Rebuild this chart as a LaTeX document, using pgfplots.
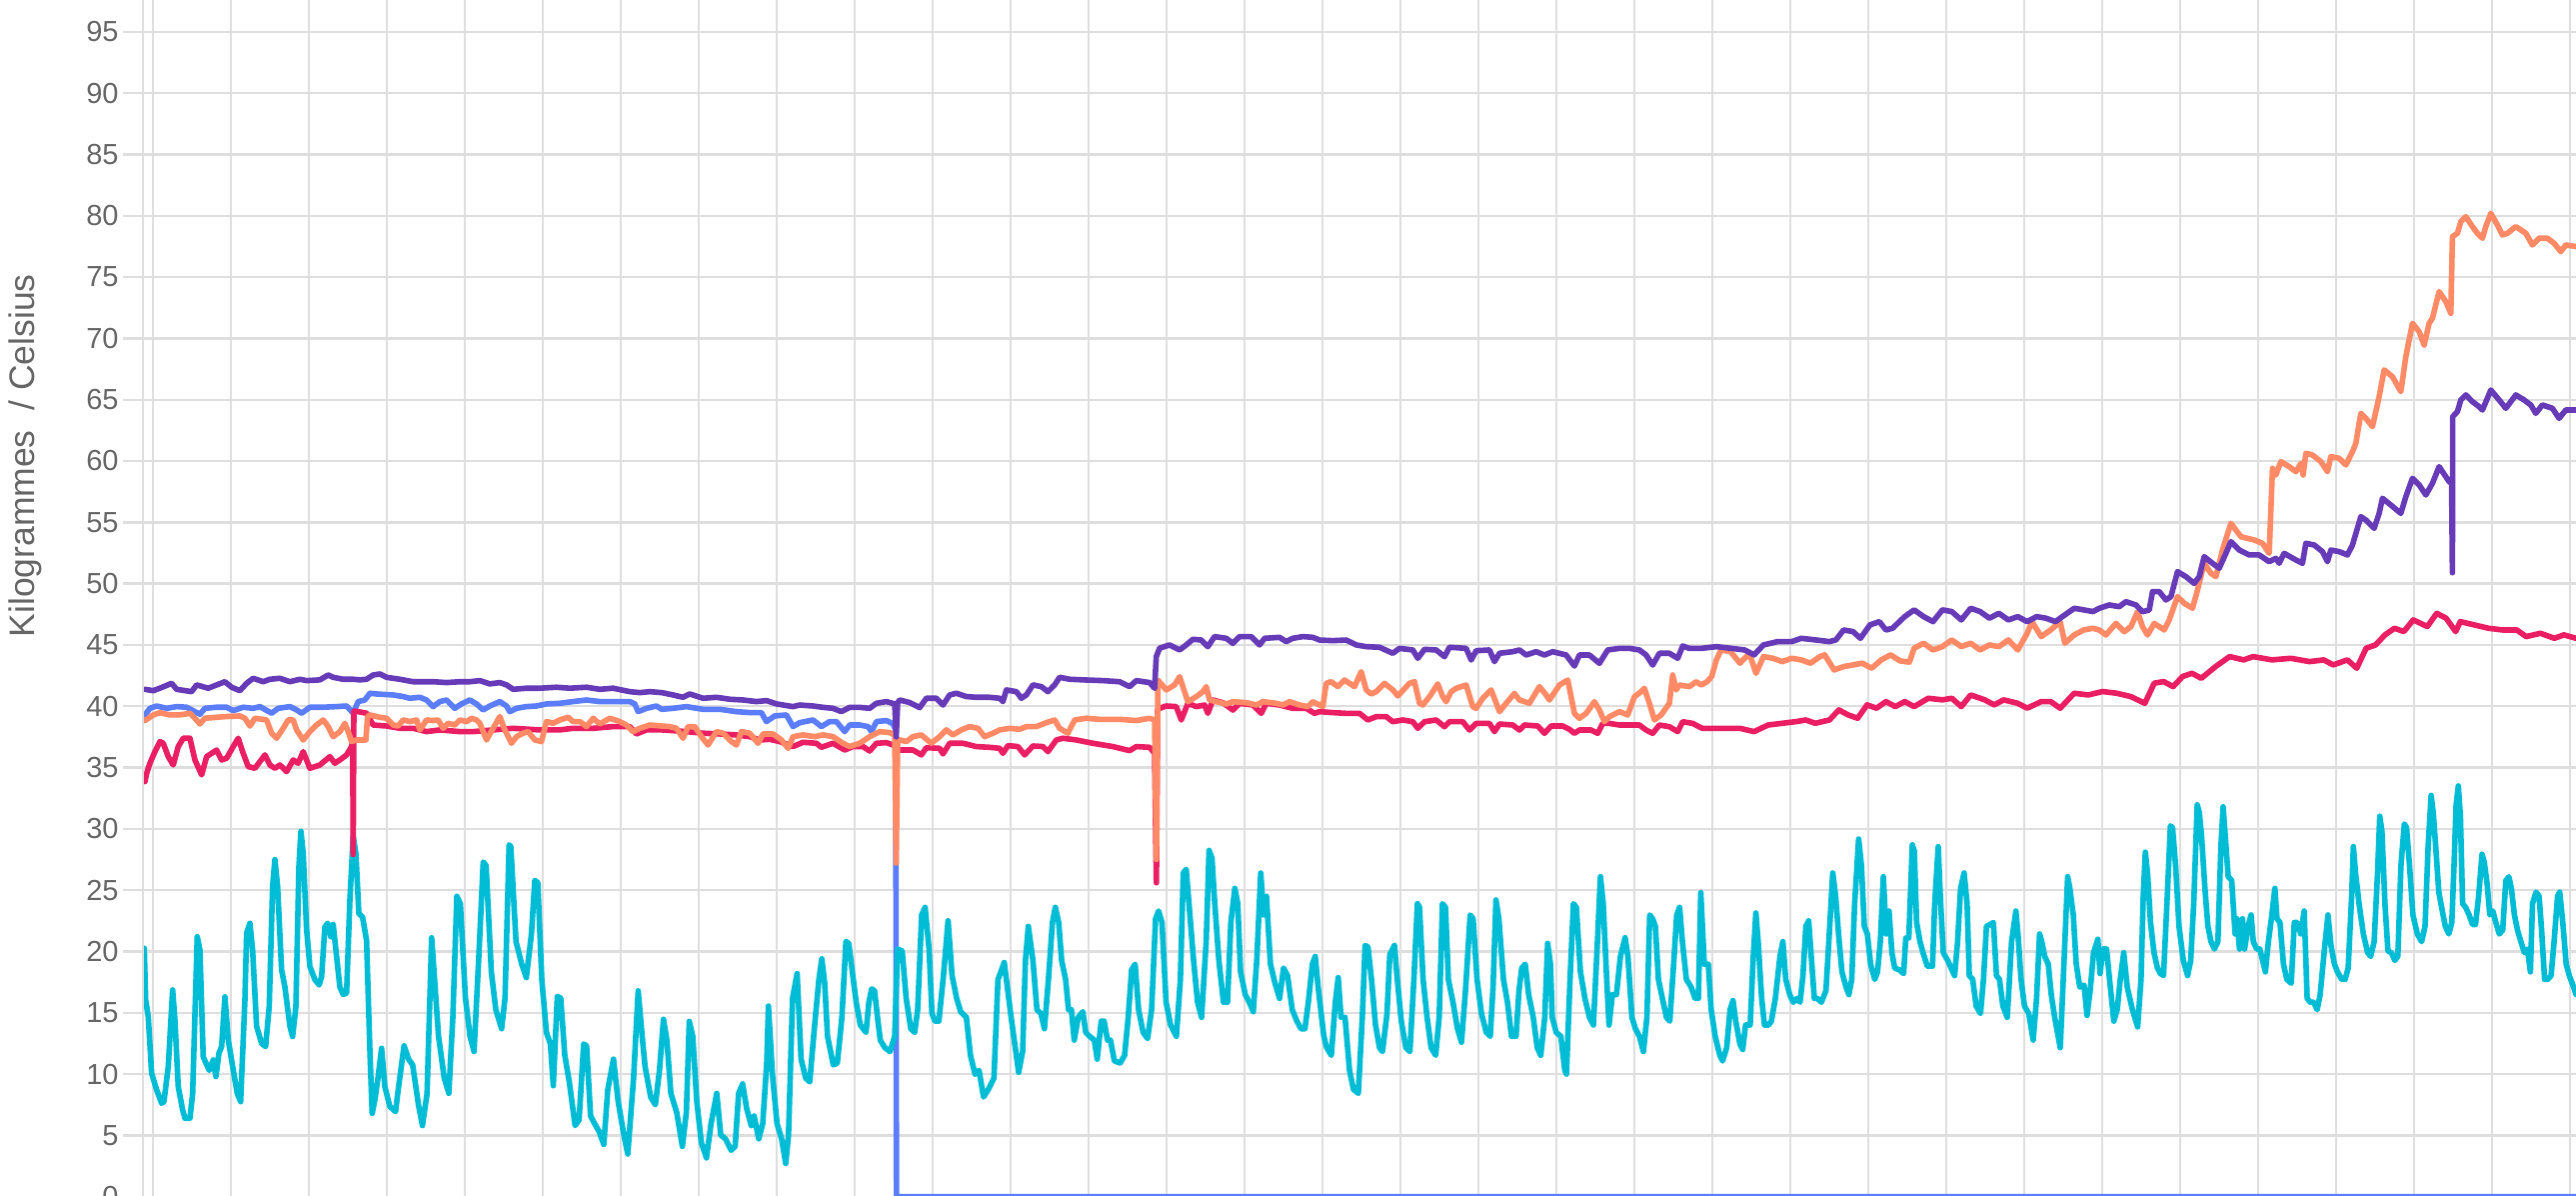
\documentclass[border=0pt]{standalone}
\usepackage{fontspec}
\setmainfont{Liberation Sans}
\usepackage{pgfplots}
\usepackage{pgfplotstable}
\pgfplotsset{compat=1.18}
\definecolor{cpurple}{HTML}{673AB7}
\definecolor{cblue}{HTML}{5B7DFA}
\definecolor{corange}{HTML}{FF8A65}
\definecolor{cred}{HTML}{E91E63}
\definecolor{ccyan}{HTML}{00BCD4}
\definecolor{gridc}{HTML}{DEDEDE}
\definecolor{txt}{HTML}{666666}
\begin{document}
\pgfplotstableread{
x y
144.3 20.26
145.7 16.05
148.3 14.69
151.7 10.06
156.7 8.71
161.7 7.62
164 7.75
168.3 10.6
172.7 16.86
175 14.4
178.3 8.98
182.7 7.07
185 6.4
190 6.4
192.7 8.4
197.3 21.2
200 20.1
203.3 11.4
209.3 10.3
213.3 11.15
216 9.8
219 11.7
221.7 12.24
225 16.3
228.3 12.8
233.3 10.34
237.3 8.43
240.7 7.75
245 16.05
246.7 21.5
250 22.3
252.7 20.1
256.7 13.9
261.7 12.5
265.7 12.24
269.3 15.5
272.7 25.3
275 27.5
277.7 25.3
281.7 18.5
285 17.1
290 13.9
292.7 13.06
296 15.5
299 26.9
301 29.8
303.3 28.0
306.7 21.8
310 18.77
315 17.7
319.3 17.27
321.7 17.95
325 22.0
327.7 22.3
331 21.2
333.3 22.2
336.7 19.6
340 17.1
343.3 16.5
346.7 16.6
350 24.2
353.3 29.4
356 28.0
359 23.1
362.7 22.8
366.7 20.9
370 11.97
372.3 6.8
375 7.9
378.3 9.8
381.7 12.1
385 8.98
390 7.35
395.7 6.94
398.3 8.7
404.2 12.3
408.8 11.2
412.8 10.75
418.6 7.5
422.6 5.8
427.2 8.4
431.8 21.12
438.7 13.08
444.4 9.67
449 8.43
453 14.63
457 24.5
460.5 23.9
465.6 16.2
470.2 13.08
474.2 11.84
478.8 19.27
483.4 27.3
486.3 27.0
491.5 18.34
496 15.25
501.8 13.7
505.2 16.2
509.3 28.7
511 28.55
516.2 20.8
521.9 18.96
526.5 17.87
531.6 21.4
535 25.8
538 25.6
542 17.7
546.6 13.4
550.6 12.46
553.5 9.05
557.5 16.33
560.9 16.2
565 11.53
569.5 9.36
575.3 5.8
579.3 6.27
583.9 12.46
586.8 12.3
590.8 6.58
594.8 5.96
599.4 5.3
604 4.26
608 8.74
613.7 11.22
618.3 7.81
623.5 5.3
628 3.48
633.8 9.67
638.4 16.79
642.4 13.08
645.3 10.6
651 8.1
655.6 7.5
659.7 10.3
663.7 14.47
667.1 12.77
671.1 8.43
676.9 6.89
682.6 4.1
686.6 6.89
689.5 14.3
693 13.08
697 7.81
701.6 4.4
706.7 3.17
711.3 5.96
717 8.43
721 5.03
725.7 4.72
731.4 3.79
735.4 4.1
738.9 8.43
742.9 9.2
746.9 7.2
751.5 5.8
754.4 6.58
759 4.72
763 5.96
767 10.9
768.7 15.55
772.7 9.98
777.3 5.96
781.9 4.72
786 2.71
788.8 5.03
792.8 16.17
797.4 18.2
801.4 11.22
806 9.67
810 9.36
814.6 13.7
819.2 17.72
822.1 19.4
825 17.4
827.8 13.08
833.6 10.75
837.6 10.9
842.2 14.63
846.2 20.8
849.1 20.66
853.1 18.03
856.5 15.86
860.6 14
866.3 13.4
869.2 15.86
872 16.95
874.9 16.79
877.8 14.63
880.6 12.77
885.2 12.15
890.4 11.84
895 13.08
897.9 20.2
902.5 20.04
906.5 16.17
911.1 13.7
915 13.4
918 15.25
922 22.98
925.4 23.6
929.4 20.2
932.3 14.94
935.2 14.32
939.2 14.32
943.8 18.03
948.4 22.5
952.4 18.03
957 16.17
961 15.09
966.7 14.63
970.8 11.53
975.4 9.98
979.4 10.3
983.9 8.13
988.6 8.74
994.3 9.67
998.3 17.7
1004.6 19.1
1011.5 14.63
1019 10.14
1023 11.84
1025.8 19.27
1028.7 22.05
1033.3 19.27
1037.3 15.25
1041.3 14.94
1044.8 13.7
1048.8 17.72
1052.8 22.36
1055.7 23.6
1059.1 22.36
1062 19.27
1066 17.72
1068.9 15.25
1071.8 15.25
1074.6 12.77
1078.6 14.63
1083.2 15.09
1086.1 13.4
1090 13.08
1094.7 12.77
1097.6 11.22
1101.6 14.32
1104.5 14.32
1107.9 12.77
1110.8 12.77
1114.8 11.07
1120.5 10.9
1125 11.53
1128.6 14.63
1132 18.5
1135.5 18.96
1139 15.25
1143.5 13.4
1148 12.9
1152 15.25
1156 22.67
1159 23.3
1162.4 22.36
1166.5 15.86
1171 14
1176.8 13.08
1180.8 17.72
1183.7 26.4
1186.6 26.7
1189.4 23.9
1194 19.27
1198 15.86
1202 14.63
1206.6 20.8
1209.5 28.24
1212.4 27.6
1215.2 23.9
1219.3 19.27
1223.9 15.86
1227.9 15.86
1231.3 22.36
1235.3 25.15
1238.2 23.9
1241 18.34
1245.7 16.48
1249.7 15.86
1253.7 15.09
1257.2 19.27
1261.2 26.4
1264 22.98
1266.9 24.5
1270.9 18.96
1275.5 17.4
1280 16.17
1284 18.65
1288 18.03
1292.7 15.25
1297.3 14.32
1301.4 13.7
1305.4 13.7
1308.8 15.86
1312.8 18.96
1315.7 19.6
1318.6 17.1
1324.3 13.08
1327.2 12.15
1331.8 11.53
1335.8 15.86
1338.7 17.87
1341.5 14.63
1345.5 14.63
1350 10.3
1354 8.74
1358.8 8.43
1362.8 14.63
1365.6 20.5
1368.5 20.35
1372 17.72
1376 14
1380 12.15
1383 11.84
1387.5 14.94
1390.3 19.73
1394.9 20.5
1397.8 17.72
1401.8 14.32
1406.4 12.15
1410.4 11.84
1414.4 17.72
1417.9 23.9
1420 23.6
1423.6 17.72
1427.6 14.63
1431.6 12.15
1436.2 11.53
1439.7 14.63
1443 23.9
1446 23.6
1448.9 17.72
1453.5 15.86
1458 13.7
1462 12.6
1466 16.79
1470.7 22.98
1473.6 22.67
1477.6 17.72
1482 14.94
1486.8 13.4
1490.8 13.08
1493.6 17.1
1496.5 24.2
1499.4 22.67
1504 17.72
1508 15.86
1512 13.08
1516.6 13.08
1519.5 16.79
1522.3 18.65
1525.8 18.96
1529.2 16.48
1533.8 14.63
1537.8 12.15
1541.3 11.53
1545.3 14.63
1548.2 20.66
1551 18.96
1552.8 14.63
1556.8 13.4
1561.4 13.08
1565.4 10.3
1567 10
1570.6 17.72
1574 23.9
1576.9 23.6
1581 18.34
1585.5 16.17
1590 14.63
1594 14
1598 20.8
1601 26.1
1603.8 23.9
1607.3 17.72
1609.6 14
1613 16.48
1617 16.48
1621 19.6
1625.7 21.12
1628.5 19.6
1632.5 14.63
1636 13.7
1640 13.08
1644 11.84
1647.5 14.63
1650.3 22.98
1653.2 22.67
1656 22.05
1659 17.72
1663 16.17
1667 14.63
1670.4 14.32
1674.5 19.27
1677.3 22.98
1680.2 23.6
1683 20.8
1687 17.72
1691.7 17.1
1695.7 16.17
1699 16.17
1701.4 24.8
1704.9 18.96
1708.9 18.96
1711.8 15.25
1715.8 13.08
1720.4 11.53
1723.2 11.07
1727.3 12.15
1730.7 15.25
1733.6 16
1736.4 14.32
1740.5 12.46
1743.3 12
1746.2 14
1750.8 14
1753.7 19.27
1756.5 23.14
1758.8 20.8
1762.3 16.17
1765.1 14
1769.2 14
1772 14.32
1776 16.17
1780.6 19.6
1783.5 20.8
1786.4 17.72
1790.4 16.48
1793.8 15.86
1797.9 16.17
1800.7 15.86
1803.6 18.03
1806.5 22.05
1809.3 22.5
1812.2 19.27
1815 16.17
1818 16.17
1822 15.86
1826.6 16.79
1830.6 22.36
1833.4 26.4
1836.3 24.5
1839.2 21.43
1842.6 18.34
1846.7 17.1
1849.5 16.48
1852.4 17.72
1855.3 23.9
1859.3 29.17
1862.1 27
1865 22.05
1868 21.43
1871.3 18.96
1875.4 17.72
1878.2 18.34
1881 20.8
1884 26.1
1886.8 21.43
1889.7 23.3
1892.6 19.9
1895.4 18.65
1900 18.5
1904.3 18.2
1906.5 21.1
1909.5 21.1
1913 28.7
1915 28.2
1917.3 22.36
1920.7 20.8
1923.7 19.9
1928 18.8
1933.2 18.8
1935.4 23.9
1938.9 28.55
1941 24.5
1944 19.9
1948.4 19.27
1951.8 18.65
1955.3 18.03
1958.3 20.8
1961.3 25.15
1964.8 26.4
1967.8 23.9
1970 18.03
1973.4 17.72
1976.9 15.55
1981.2 14.94
1984.2 17.72
1987.2 22.05
1990.7 22.2
1994.1 22.36
1997.2 18.03
2000.2 17.72
2003.6 15.55
2008 14.63
2012.3 20.8
2016.6 23.3
2018.7 21.43
2021.8 17.72
2025.2 15.55
2029.5 14.94
2033.9 12.77
2037.3 16.17
2040.3 21.43
2042.5 20.8
2045.5 19.6
2049 18.96
2052 16.48
2055.4 14.63
2061 12.15
2064 17.72
2068.4 26.1
2070.6 25.15
2074 23
2077 18.96
2080.5 17.1
2084.8 17.25
2087.8 14.78
2090.9 16.79
2094.3 19.9
2098.6 21
2100.8 18.2
2103.8 20.2
2107.3 20.2
2110.7 17.41
2114.6 14.32
2118 15.25
2121 17.72
2124.5 19.9
2128 17.1
2133.2 15.25
2138.4 13.85
2141.8 17.72
2144 24.5
2146.1 28.1
2148.3 26.4
2151.3 22.36
2154.8 19.9
2158.2 18.65
2161.2 18.2
2164.3 18.03
2167.7 23.9
2171.2 30.25
2173.3 30.1
2176.4 27
2179.8 22.05
2184.1 19.27
2188.4 18.03
2191.5 19.27
2194.5 23.9
2198 31.96
2200.1 31.34
2202.3 29.48
2205.7 25.15
2208.7 22.05
2211.8 20.8
2215.2 20.2
2218.7 20.8
2221.7 28.55
2223.9 31.8
2226 29.48
2229 26.1
2232.5 25.8
2235.9 21.43
2237.7 22.67
2240.3 20.2
2243.3 22.67
2245.4 20.2
2248.9 22.05
2251.9 22.98
2254.1 20.8
2257.5 20.2
2260.6 20.2
2266.2 18.34
2269.2 20.8
2272.2 22.67
2275.7 25.15
2277.8 22.67
2280.8 22.36
2284.3 18.96
2287.7 17.72
2292.1 17.41
2295.1 22.36
2298.1 22.36
2301.6 21.43
2305 23.3
2308 16.17
2311 15.86
2314.5 15.86
2318 15.25
2321 16.48
2325.3 20.2
2328.8 22.98
2331.8 20.5
2335.3 18.96
2338.3 18.34
2342.6 17.72
2346 17.72
2349 18.65
2352.5 24.5
2354.2 28.55
2356.4 26.4
2359.9 23.9
2364.2 21.43
2368.5 19.9
2371.5 19.6
2375 20.8
2378.4 26.4
2380.6 31.03
2382.8 29.79
2385.8 23.9
2388.8 20.04
2392.3 19.9
2395.7 19.27
2398.7 19.6
2401.8 27
2405.2 30.4
2407.4 30.1
2410.4 27
2413.8 22.98
2418.2 21.43
2422.5 20.8
2425.9 22.05
2429 28.55
2432 32.73
2434.1 31.34
2436.3 28.86
2439.7 24.84
2443.2 23.3
2446.2 22.05
2449.7 21.43
2452.7 22.36
2454.9 27
2457 31.96
2459.2 33.5
2461.3 31
2463.5 23.9
2466.5 23.6
2470 22.98
2473.4 22.2
2476.4 22.2
2479.5 24.5
2482.9 27.93
2485.1 27.3
2488.1 25.46
2490.7 22.98
2493.7 23.3
2496.7 22.36
2500.2 21.43
2503.6 21.74
2506.7 25.77
2509.7 26.1
2512.3 25.15
2515.3 22.98
2518.4 21.74
2521.8 20.8
2525.3 19.9
2528.3 20.2
2531.3 18.34
2533.4 23.9
2536.9 24.84
2540 24.5
2542.5 21.74
2545.5 17.72
2548.6 17.72
2552 18.03
2555 20.8
2558.5 24.5
2560.6 24.84
2563.7 22.36
2567.1 18.96
2570.2 18.03
2574.5 17.1
2577 16.48
}\tcyan
\pgfplotstableread{
x y
145 41.38
153.3 41.27
160 41.47
171.7 41.87
176.7 41.38
191.7 41.19
196.7 41.74
208.3 41.47
225 42
231.7 41.55
240 41.27
246.7 41.87
253.3 42.28
263.3 42
270 42.2
280 42.28
290 42
300 42.2
306.7 42.09
320 42.15
328.3 42.55
333.3 42.36
343.3 42.2
353.3 42.2
360 42.15
366.7 42.2
373.3 42.55
380 42.63
386.7 42.36
400 42.2
413.3 42
433.3 42
446.7 41.93
460 42
470 42
480 42.09
490 41.82
500 41.93
506.7 41.74
513.3 41.38
526.7 41.47
540 41.47
556.7 41.55
570 41.47
586.7 41.55
600 41.38
613.3 41.47
630 41.19
640 41.11
650 41.19
662 41.11
673.3 40.92
683.3 40.73
690 41
703.3 40.65
716.7 40.73
730 40.57
743.3 40.51
756.7 40.38
766.7 40.46
776.7 40.19
793.3 39.97
800 40.1
813.3 40.02
823.3 39.91
833.3 39.83
841.7 39.56
850 39.91
860 39.91
870 39.83
876.7 40.24
886.7 40.38
895 40.19
896.5 37.5
898 40.3
900 40.51
910 40.3
920 39.89
926.7 40.65
936.7 40.65
943.3 40.1
950 40.92
956.7 41.06
966.7 40.79
976.7 40.73
990 40.73
1000 40.65
1003.3 40.38
1006.7 41.33
1016.7 41.19
1021.7 40.65
1026.7 40.92
1033.3 41.74
1041.7 41.6
1048.3 41.19
1055 41.74
1060 42.36
1070 42.2
1086.7 42.14
1103.3 42.09
1120 42
1130 41.6
1136.7 42.09
1150 41.93
1155 41.46
1156.7 44.05
1160 44.73
1170 45
1180 44.59
1186.7 45
1193.3 45.46
1201.7 45.4
1208.3 44.86
1215 45.68
1226.7 45.54
1233.3 45.13
1240 45.68
1251.7 45.68
1260 45
1265 45.54
1280 45.62
1286.7 45.27
1293.3 45.54
1303.3 45.68
1313.3 45.62
1320 45.4
1333.3 45.35
1346.7 45.4
1356.7 45
1366.7 44.86
1380 44.81
1393.3 44.32
1400 44.72
1413.3 44.59
1418.3 43.91
1425 44.64
1436.7 44.59
1445 44.04
1450 44.81
1466.7 44.72
1471.7 43.77
1476.7 44.53
1490 44.59
1495 43.64
1500 44.32
1513.3 44.45
1520 44.59
1526.7 44.18
1536.7 44.45
1545 44.18
1553.3 44.45
1566.7 44.18
1575 43.28
1580 44.18
1590 44.18
1600 43.5
1608.3 44.59
1620 44.72
1630 44.72
1640 44.59
1646.7 44.18
1653.3 43.36
1660 44.32
1670 44.32
1678.3 43.91
1683.3 44.91
1690 44.72
1702 44.72
1717 44.86
1731.1 44.73
1745.3 44.59
1754.7 44.19
1764.1 45
1778.2 45.27
1792.4 45.27
1801.8 45.54
1816 45.41
1830.1 45.27
1836.6 45.41
1844.2 46.22
1853.6 46.09
1861.1 45.54
1870.6 46.63
1880 46.9
1886.6 46.22
1893.2 46.36
1905.4 47.31
1914.8 47.86
1924.3 47.31
1933.7 46.9
1943.1 47.86
1952.5 47.72
1962 47.04
1971.4 47.99
1980.8 47.72
1990.2 47.18
1999.6 47.58
2009 47.04
2018.5 47.31
2027.9 46.9
2037.3 47.31
2046.7 47.18
2056.1 46.9
2065.6 47.45
2075 47.99
2084.4 47.86
2093.8 47.72
2100 47.99
2110 48.26
2120 48.12
2126.7 48.53
2136.7 48.26
2143.3 47.71
2150 47.85
2153.3 49.35
2160 49.35
2166.7 48.67
2171.7 48.94
2178.3 50.98
2186.7 50.57
2195 50.02
2200 50.57
2205 52.2
2213.3 51.66
2220 51.25
2226.7 52.47
2231.7 53.42
2240 52.74
2250 52.34
2260 52.34
2270 51.79
2276.7 52.06
2280 51.66
2285 52.47
2296.7 51.93
2303.3 51.66
2306.7 53.29
2315 53.15
2323.3 52.61
2328.3 51.79
2331.7 52.74
2340 52.61
2348.3 52.34
2353.3 53.15
2361.7 55.46
2366.7 55.19
2375 54.51
2380 55.73
2383.3 56.96
2391.7 56.41
2401.7 55.73
2406.7 57.09
2413.3 58.59
2420 58.05
2426.7 57.23
2433.3 58.18
2440 59.54
2450 58.32
2452.5 58.18
2453.3 50.89
2453.6 63.62
2458.3 64.03
2461.7 64.98
2466.7 65.39
2473.3 64.84
2480 64.43
2483.3 64.16
2488.3 65.12
2491.7 65.79
2500 64.98
2506.7 64.3
2511.7 64.84
2516.7 65.39
2525 64.98
2531.7 64.57
2536.7 63.89
2543.3 64.57
2553.3 64.3
2560 63.48
2566.7 64.16
2577 64.16
}\tpurple
\pgfplotstableread{
x y
145 39.29
150 39.83
156.7 40.02
166.7 39.83
176.7 39.97
186.7 39.92
195 39.56
200 39.35
205 39.83
216.7 39.92
226.7 39.92
233.3 39.64
243.3 39.92
253.3 39.83
260 39.97
271.7 39.43
278.3 39.83
290 39.97
296.7 39.7
301.7 39.43
310 39.92
323.3 39.92
336.7 39.97
346.7 40.02
353.3 39.43
358.3 40.38
365 40.51
370 41.06
376.7 41
393.3 40.92
403.3 40.79
410 40.65
420 40.73
426.7 40.51
433.3 39.97
440 40.38
446.7 40.51
455 39.83
461.7 40.19
470 40.51
476.7 40.19
483.3 39.7
490 40.02
500 40.38
506.7 40.02
510 39.56
516.7 39.83
526.7 39.97
536.7 40.02
546.7 40.19
560 40.24
573.3 40.38
586.7 40.51
600 40.38
613.3 40.38
630 40.38
635 40.19
638.3 39.56
646.7 39.83
656.7 40.02
662 39.75
673.3 39.83
686.7 39.97
703.3 39.75
720 39.75
736.7 39.56
750 39.48
761.7 39.48
766.7 38.75
775 39.21
786.7 39.29
793.3 38.34
800 38.66
813.3 38.88
821.7 38.34
830 38.75
836.7 38.75
845 37.93
850 38.47
860 38.47
868.3 38.34
871.7 37.93
876.7 38.75
886.7 38.83
893.3 38.56
896 38.07
896.8 0
2577 0
}\tblue
\pgfplotstableread{
x y
145 38.83
153.3 39.29
160 39.48
170 39.29
180 39.29
190 39.43
195 39.02
200 38.56
205 39.02
216.7 39.1
226.7 39.16
240 39.21
245 39.02
250 38.39
255 39.02
266.7 38.88
271.7 37.8
276.7 37.39
283.3 38.2
288.3 38.88
293.3 38.88
296.7 38.07
303.3 37.25
310 37.93
316.7 38.47
323.3 38.88
328.3 38.34
333.3 37.52
340 37.93
345 38.61
348.3 37.93
351.7 37.12
356.7 37.25
361.7 37.25
366 37.25
367.7 39.16
370 39.29
380 39.1
386.7 39.02
393.3 38.47
398.3 38.39
403.3 38.88
410 38.75
416.7 38.88
420 38.07
426.7 38.88
433.3 38.83
438.3 38.88
443.3 38.2
448.3 38.61
455 38.47
460 38.88
466.7 38.75
471.7 39.02
476.7 38.88
480 38.61
486.7 37.25
493.3 38.2
500 39.16
505 38.07
511.7 36.98
516.7 37.52
523.3 37.8
528.3 37.93
535 37.25
541.7 37.12
546.7 38.75
553.3 38.61
560 38.88
568.3 39.1
573.3 38.75
580 38.75
586.7 38.34
593.3 39.02
600 38.56
610 39.02
620 38.75
626.7 38.47
633.3 37.93
640 38.2
650 38.47
662 38.39
670 38.34
676.7 38.2
683.3 37.39
688.3 38.34
695 38.34
701.7 37.52
708.3 36.84
716.7 37.93
723.3 37.8
731.7 37.12
736.7 36.84
741.7 37.93
750 37.8
758.3 36.98
763.3 37.74
773.3 37.74
781.7 37.25
788.3 36.57
793.3 37.52
803.3 37.66
815 37.52
823.3 37.66
833.3 37.52
843.3 36.98
850 36.71
860 36.98
870 37.52
880 37.93
890 37.85
895 37.66
896.5 27.2
898 37.3
900 37.25
906.7 37.12
913.3 37.52
921.7 37.66
931.7 36.98
940 37.52
946.7 38.07
953.3 37.66
961.7 38.07
970 38.34
978.3 38.2
985 37.52
993.3 37.8
1000 38.07
1010 38.2
1020 38.12
1026.7 38.34
1036.7 38.34
1046.7 38.66
1055 38.88
1060 38.2
1068.3 37.8
1075 38.88
1086.7 39.02
1100 38.93
1120 38.93
1136.7 38.83
1150 39.02
1155 38.88
1156.8 27.5
1158.3 42.14
1166.7 41.33
1175 41.74
1180 42.41
1183.3 41.6
1188.3 40.37
1196.7 40.78
1203.3 41.19
1206.7 41.6
1210 40.51
1216.7 40.37
1226.7 40.18
1233.3 40.37
1246.7 40.29
1256.7 40.1
1263.3 40.37
1276.7 40.24
1283.3 40.1
1290 40.37
1300 40.1
1308.3 39.97
1313.3 40.37
1320 40.1
1323.3 39.97
1326.7 41.87
1331.7 42
1338.3 41.6
1345 42.14
1350 41.87
1355 41.6
1361.7 42.82
1366.7 41.33
1371.7 41
1376.7 41.19
1385 41.87
1393.3 41.33
1398.3 40.84
1410 41.87
1415 42
1420 40.24
1423.3 40.1
1430 40.78
1438.3 41.82
1443.3 40.78
1446.7 40.37
1451.7 41.19
1456.7 41.46
1466.7 41.73
1473.3 39.97
1476.7 39.83
1483.3 40.65
1491.7 41.33
1500 39.56
1506.7 40.24
1515 41.05
1520 40.51
1530 40.24
1540 41.6
1546.7 40.92
1550 40.51
1560 41.73
1568.3 42.14
1575 39.42
1580 39.01
1586.7 39.42
1595 40.37
1600 39.69
1605 38.74
1610 39.15
1620 39.56
1628.3 39.29
1635 40.78
1641.7 41.19
1645 41.46
1650 40.24
1655 38.88
1661.7 39.29
1670 40.24
1673.3 42.55
1676.7 41.33
1680 41.73
1690 41.6
1696.7 42
1702 41.73
1707.6 42
1712.3 42.42
1717 43.78
1721.7 44.59
1731.1 44.46
1740.6 43.51
1750 44.32
1756.6 42.69
1764.1 44.05
1773.5 43.91
1783 43.64
1792.4 43.91
1801.8 43.78
1811.2 43.51
1820.6 44.05
1825.3 44.19
1834.8 42.96
1844.2 43.23
1853.6 43.37
1863 43.51
1872.4 43.1
1881.9 43.78
1891.3 44.19
1900.7 43.7
1910.1 43.6
1914.8 44.73
1924.3 45.14
1933.7 44.59
1943.1 44.86
1952.5 45.41
1962 44.86
1971.4 45.14
1980.8 44.59
1990.2 45
1999.6 44.86
2009 45.41
2018.5 44.59
2027.9 45.95
2032.6 46.9
2042 45.68
2051.4 46.22
2060.9 46.9
2065.6 45.14
2075 45.82
2084.4 46.22
2093.8 46.36
2100 46.22
2106.7 45.81
2116.7 46.76
2125 46.08
2131.7 46.49
2138.3 47.71
2143.3 46.49
2148.3 45.81
2155 46.76
2165 46.22
2170 47.04
2178.3 48.94
2185 48.4
2193.3 47.99
2198.3 49.48
2205 51.66
2211.7 50.84
2216.7 50.57
2223.3 52.74
2231.7 54.92
2236.7 54.37
2241.7 53.83
2248.3 53.69
2255 53.56
2263.3 53.29
2270 52.47
2273.3 59.4
2276.7 58.86
2281.7 59.95
2290 59.54
2296.7 59.13
2301.7 59.81
2304 58.86
2306.7 60.63
2313.3 60.49
2321.7 59.95
2328.3 59.13
2331.7 60.36
2340 60.22
2346.7 59.68
2353.3 60.76
2356.7 61.45
2361.7 63.89
2366.7 63.48
2373.3 62.8
2380 65.25
2385 67.43
2393.3 66.88
2401.7 65.66
2406.7 68.51
2413.3 71.23
2420 70.55
2425 69.46
2430 71.23
2433.3 71.64
2440 73.82
2446.7 73
2451.7 72.05
2453.3 78.3
2458.3 78.57
2461.7 79.52
2466.7 79.93
2473.3 79.12
2478.3 78.57
2483.3 78.17
2486.7 79.12
2491.7 80.2
2498.3 79.25
2503.3 78.44
2508.3 78.57
2516.7 79.12
2526.7 78.57
2533.3 77.62
2540 78.17
2548.3 78.17
2555 77.76
2561.7 77.08
2566.7 77.62
2577 77.49
}\torange
\pgfplotstableread{
x y
145 33.85
146.7 34.53
150 35.35
155 36.3
160 37.12
163.3 36.98
168.3 35.89
173.3 35.21
178.3 36.71
183.3 37.39
190 37.39
195 35.62
201.7 34.4
206.7 35.89
211.7 36.16
216.7 36.43
221.7 35.62
226.7 35.76
233.3 36.71
238.3 37.39
243.3 36.16
248.3 35.08
255 34.94
260 35.48
265 36.03
270 35.21
275 34.94
280 35.21
286.7 34.67
293.3 35.62
298.3 35.35
303.3 36.3
310 34.94
320 35.21
330 35.89
335 35.35
340 35.62
346.7 36.03
351.7 36.71
352.8 37.2
353.3 27.9
354 39.6
358.3 39.56
366.7 39.43
373.3 38.47
386.7 38.39
400 38.2
413.3 38.2
426.7 37.93
440 38.07
460 37.93
473.3 37.93
493.3 38.07
513.3 38.2
540 38.07
560 38.07
573.3 38.2
593.3 38.2
613.3 38.34
630 38.34
636.7 37.74
646.7 38.07
662 38.07
673.3 38.01
686.7 37.93
703.3 37.8
720 37.74
736.7 37.66
750 37.52
760 37.25
770 37.3
780 37.12
793.3 36.71
803.3 37.06
816.7 36.98
821.7 36.65
833.3 36.98
845 36.43
853.3 36.71
863.3 36.71
870 36.35
876.7 36.98
886.7 37.03
893.3 36.84
900 36.43
913.3 36.43
921.7 36.03
926.7 36.62
940 36.57
943.3 36.11
950 36.98
963.3 36.98
976.7 36.71
990 36.65
1000 36.57
1003.3 36.16
1008.3 36.79
1018.3 36.71
1025 36.03
1033.3 36.76
1043.3 36.71
1048.3 36.3
1056.7 37.25
1063.3 37.39
1076.7 37.25
1093.3 36.98
1113.3 36.71
1130 36.38
1136.7 36.71
1150 36.65
1155 36.16
1156.8 25.6
1158 39.7
1160 39.83
1166.7 40.02
1176.7 39.97
1181.7 38.88
1188.3 40.24
1196.7 39.97
1205 40.1
1208.3 39.42
1213.3 40.51
1223.3 40.29
1233.3 39.69
1240 40.24
1253.3 40.1
1261.7 39.42
1266.7 40.24
1280 40.1
1293.3 39.83
1306.7 39.83
1315 39.42
1320 39.56
1333.3 39.48
1346.7 39.42
1360 39.42
1368.3 38.88
1376.7 39.15
1386.7 39.15
1393.3 38.74
1403.3 38.88
1413.3 38.74
1418.3 38.2
1425 38.74
1436.7 38.88
1445 38.33
1450 38.74
1463.3 38.74
1470 38.06
1476.7 38.6
1490 38.6
1495 37.93
1500 38.55
1513.3 38.47
1520 38.06
1525 38.47
1538.3 38.39
1545 37.79
1551.7 38.39
1563.3 38.39
1570 38.12
1575 37.79
1580 38.06
1591.7 38.06
1598.3 37.79
1603.3 38.6
1610 38.6
1620 38.47
1630 38.47
1640 38.47
1646.7 38.06
1653.3 37.79
1660 38.47
1670 38.33
1678.3 37.93
1683.3 38.74
1693.3 38.6
1702.9 38.2
1721.7 38.2
1740.6 38.2
1754.7 37.93
1768.8 38.47
1783 38.61
1797.1 38.75
1806.5 38.88
1815.9 38.61
1830.1 38.88
1839.5 39.7
1848.9 39.29
1858.3 39.02
1867.7 40.11
1877.2 39.84
1886.6 40.38
1896 39.97
1905.4 40.38
1914.8 39.97
1929 40.65
1943.1 40.52
1952.5 40.65
1962 39.97
1971.4 40.92
1985.5 40.52
1994.9 40.11
2004.3 40.52
2018.5 40.24
2027.9 39.84
2042 40.38
2051.4 40.38
2060.9 39.84
2075 41.06
2089.1 40.92
2103.2 41.2
2117.4 41.06
2131.5 40.79
2145.6 40.24
2155 41.88
2164.5 42.01
2173.9 41.6
2183.3 42.42
2192.7 42.69
2202.1 42.28
2216.3 43.23
2230.4 44.05
2244.5 43.78
2253.9 44.05
2272.8 43.78
2291.6 43.91
2310.4 43.64
2324.6 43.78
2334 43.37
2348.2 43.78
2357.6 43.1
2367 44.73
2376.4 45
2385.8 45.82
2395.3 46.36
2404.7 46.09
2414.1 47.04
2428.2 46.5
2437.6 47.58
2447 47.18
2456.5 46.09
2461.2 46.9
2475.3 46.63
2489.4 46.36
2503.6 46.22
2517.7 46.22
2527.1 45.68
2541.3 45.95
2555.4 45.54
2564.8 45.82
2577 45.54
}\tred
\begin{tikzpicture}
\begin{axis}[
  at={(0pt,0pt)}, anchor=south west,
  scale only axis, width=1217pt, height=598.35pt,
  xmin=143, xmax=2577, ymin=0, ymax=97.6,
  xtick={153,231,...,2571}, xticklabels={},
  ytick={0,5,...,95},
  grid=major, grid style={gridc, line width=1.2pt},
  axis line style={draw=none},
  tick align=outside, major tick length=10pt,
  xtick style={draw=none},
  ytick style={gridc, line width=1.2pt},
  yticklabel style={font=\fontsize{14.5}{17}\selectfont, text=txt, anchor=east, inner sep=0pt, xshift=-2pt},
  /pgf/number format/assume math mode=true,
  ylabel={Kilogrammes\ \ / Celsius},
  every axis y label/.style={at={(axis description cs:-0.0485,0.619)}, rotate=90, anchor=center, font=\fontsize{17.75}{20}\selectfont, text=txt},
  every axis plot/.append style={line width=2.8pt, line join=round, line cap=round, mark=none},
]
\addplot[cblue] table[x=x,y=y] {\tblue};
\addplot[ccyan] table[x=x,y=y] {\tcyan};
\addplot[cred] table[x=x,y=y] {\tred};
\addplot[corange] table[x=x,y=y] {\torange};
\addplot[cpurple] table[x=x,y=y] {\tpurple};
\end{axis}
\draw[gridc, line width=1.2pt] (0pt,0pt) -- (0pt,598.35pt);
\pgfresetboundingbox
\useasboundingbox (-71.5pt,0.85pt) rectangle (1217pt,598.35pt);
\end{tikzpicture}
\end{document}
